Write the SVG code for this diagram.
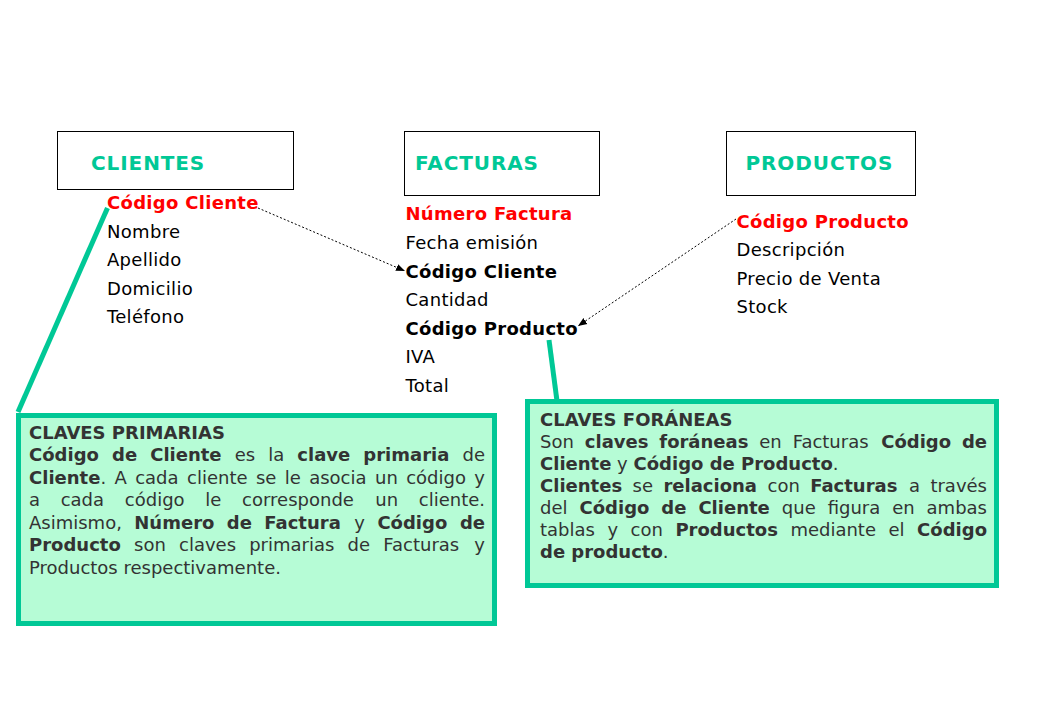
<svg xmlns="http://www.w3.org/2000/svg" width="1048" height="719" viewBox="0 0 1048 719">
<style>
  .tbl { fill: #ffffff; stroke: #000000; stroke-width: 1; }
  .title { font-family: "DejaVu Sans", Verdana, sans-serif; font-size: 20px; font-weight: bold; fill: #00c896; letter-spacing: 0.9px; }
  .fld { font-family: "DejaVu Sans", Verdana, sans-serif; font-size: 18px; fill: #000000; letter-spacing: 0.3px; }
  .pk { fill: #ff0000; font-weight: bold; }
  .fk { font-weight: bold; }
  .dash { fill: none; stroke: #000000; stroke-width: 1; stroke-dasharray: 2 2; }
  .lead { fill: none; stroke: #00c896; stroke-width: 5; }
  .note { fill: #b6fcd6; stroke: #00c896; stroke-width: 5; }
  .nt { font-family: "DejaVu Sans", sans-serif; font-size: 18px; fill: #333333; }
  .b { font-weight: bold; }
</style>
<defs>
  <marker id="ah" viewBox="0 0 10 10" refX="10" refY="5" markerWidth="9" markerHeight="9" markerUnits="userSpaceOnUse" orient="auto">
    <path d="M0,1 L10,5 L0,9 Z" fill="#000000"/>
  </marker>
</defs>
<rect x="0" y="0" width="1048" height="719" fill="#ffffff"/>

<g id="connectors">
  <line class="dash" x1="258" y1="208" x2="405" y2="271" marker-end="url(#ah)"/>
  <line class="dash" x1="736" y1="219" x2="578" y2="326" marker-end="url(#ah)"/>
  <line class="lead" x1="107.5" y1="208" x2="18" y2="412"/>
  <line class="lead" x1="549" y1="340" x2="557" y2="401"/>
</g>

<g id="clientes">
  <rect class="tbl" x="57.5" y="131.5" width="236" height="58"/>
  <text class="title" x="91" y="170">CLIENTES</text>
  <text class="fld pk" x="107" y="208.5">Código Cliente</text>
  <text class="fld" x="107" y="237.5">Nombre</text>
  <text class="fld" x="107" y="266">Apellido</text>
  <text class="fld" x="107" y="294.5">Domicilio</text>
  <text class="fld" x="107" y="323">Teléfono</text>
</g>

<g id="facturas">
  <rect class="tbl" x="404.5" y="131.5" width="195" height="64"/>
  <text class="title" x="415" y="169.5">FACTURAS</text>
  <text class="fld pk" x="405.5" y="220">Número Factura</text>
  <text class="fld" x="405.5" y="249">Fecha emisión</text>
  <text class="fld fk" x="405.5" y="277.5">Código Cliente</text>
  <text class="fld" x="405.5" y="306">Cantidad</text>
  <text class="fld fk" x="405.5" y="334.5">Código Producto</text>
  <text class="fld" x="405.5" y="363">IVA</text>
  <text class="fld" x="405.5" y="391.5">Total</text>
</g>

<g id="productos">
  <rect class="tbl" x="726.5" y="131.5" width="189" height="64"/>
  <text class="title" x="745.5" y="170">PRODUCTOS</text>
  <text class="fld pk" x="736.5" y="227.5">Código Producto</text>
  <text class="fld" x="736.5" y="256">Descripción</text>
  <text class="fld" x="736.5" y="284.5">Precio de Venta</text>
  <text class="fld" x="736.5" y="313">Stock</text>
</g>

<g id="claves-primarias">
  <rect class="note" x="18.5" y="415.5" width="476" height="208"/>
  <text class="nt b" x="29" y="438.5">CLAVES PRIMARIAS</text>
  <text class="nt" y="461"><tspan class="b" x="29">Código</tspan><tspan class="b" x="112">de</tspan><tspan class="b" x="150.2">Cliente</tspan><tspan x="234.7">es</tspan><tspan x="268.2">la</tspan><tspan class="b" x="297.3">clave</tspan><tspan class="b" x="363.3">primaria</tspan><tspan x="485" text-anchor="end">de</tspan></text>
  <text class="nt" y="483.5"><tspan class="b" x="29">Cliente</tspan><tspan>.</tspan><tspan x="114.5">A</tspan><tspan x="135.2">cada</tspan><tspan x="187">cliente</tspan><tspan x="255.9">se</tspan><tspan x="284.7">le</tspan><tspan x="309.2">asocia</tspan><tspan x="375">un</tspan><tspan x="406.2">código</tspan><tspan x="485" text-anchor="end">y</tspan></text>
  <text class="nt" y="506"><tspan x="29">a</tspan><tspan x="60.7">cada</tspan><tspan x="124.8">código</tspan><tspan x="205.3">le</tspan><tspan x="242.1">corresponde</tspan><tspan x="375.3">un</tspan><tspan x="485" text-anchor="end">cliente.</tspan></text>
  <text class="nt" y="528.5"><tspan x="29">Asimismo,</tspan><tspan class="b" x="134.3">Número</tspan><tspan class="b" x="226.8">de</tspan><tspan class="b" x="264.3">Factura</tspan><tspan x="354.3">y</tspan><tspan class="b" x="377.4">Código</tspan><tspan class="b" x="485" text-anchor="end">de</tspan></text>
  <text class="nt" y="551"><tspan class="b" x="29">Producto</tspan><tspan x="134">son</tspan><tspan x="179">claves</tspan><tspan x="249.2">primarias</tspan><tspan x="347.6">de</tspan><tspan x="383.3">Facturas</tspan><tspan x="485" text-anchor="end">y</tspan></text>
  <text class="nt" x="29" y="573.5">Productos respectivamente.</text>
</g>

<g id="claves-foraneas">
  <rect class="note" x="527.5" y="401.5" width="469" height="184"/>
  <text class="nt b" x="540" y="425.5">CLAVES FORÁNEAS</text>
  <text class="nt" y="447.5"><tspan x="540">Son</tspan><tspan class="b" x="584.8">claves</tspan><tspan class="b" x="659.3">foráneas</tspan><tspan x="759.3">en</tspan><tspan x="792.7">Facturas</tspan><tspan class="b" x="881.2">Código</tspan><tspan class="b" x="987" text-anchor="end">de</tspan></text>
  <text class="nt" x="540" y="469.5"><tspan class="b">Cliente</tspan> y <tspan class="b">Código de Producto</tspan>.</text>
  <text class="nt" y="491.5"><tspan class="b" x="540">Clientes</tspan><tspan x="632.6">se</tspan><tspan class="b" x="663.4">relaciona</tspan><tspan x="767.5">con</tspan><tspan class="b" x="810.2">Facturas</tspan><tspan x="908.9">a</tspan><tspan x="987" text-anchor="end">través</tspan></text>
  <text class="nt" y="513.5"><tspan x="540">del</tspan><tspan class="b" x="579.5">Código</tspan><tspan class="b" x="661.3">de</tspan><tspan class="b" x="698.4">Cliente</tspan><tspan x="781.8">que</tspan><tspan x="827.7">figura</tspan><tspan x="892.2">en</tspan><tspan x="987" text-anchor="end">ambas</tspan></text>
  <text class="nt" y="535.5"><tspan x="540">tablas</tspan><tspan x="607.4">y</tspan><tspan x="630.6">con</tspan><tspan class="b" x="675.4">Productos</tspan><tspan x="790.4">mediante</tspan><tspan x="888.5">el</tspan><tspan class="b" x="987" text-anchor="end">Código</tspan></text>
  <text class="nt" x="540" y="557.5"><tspan class="b">de producto</tspan>.</text>
</g>
</svg>
